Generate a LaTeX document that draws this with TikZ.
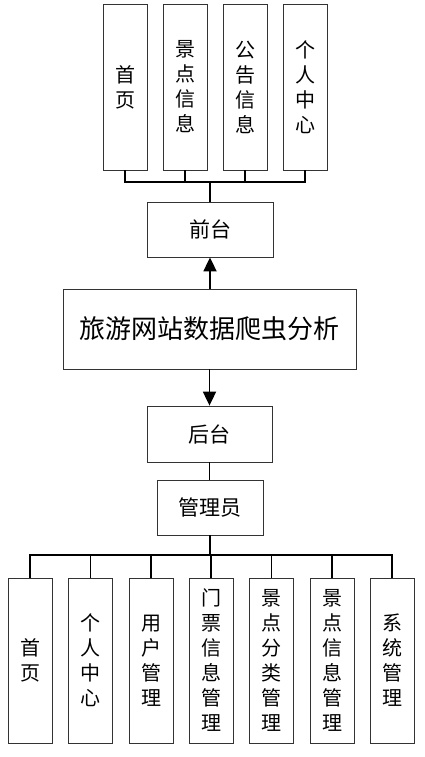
\documentclass[tikz,border=0pt]{standalone}
\usepackage{fontspec}
\setmainfont{Noto Sans CJK SC}
\usetikzlibrary{arrows.meta}

\begin{document}
\begin{tikzpicture}[
    x=1pt, y=-1pt,
    block/.style={draw=black!80, line width=0.8pt, rectangle, align=center, inner sep=0pt, fill=white},
    colbox/.style={block, minimum width=44pt, minimum height=166pt, font=\fontsize{20}{25}\selectfont},
    midbox/.style={block, minimum height=55pt, font=\fontsize{21}{25}\selectfont},
    tree/.style={line width=1.3pt},
    flow/.style={line width=1.8pt, -{Triangle[width=13pt,length=14pt]}}
  ]
    \useasboundingbox (0,0) rectangle (424,757);

    % Front pages
    \node[colbox] at (125,87)  (home)    {首\\页};
    \node[colbox] at (185,87)  (scenic)  {景\\点\\信\\息};
    \node[colbox] at (245,87)  (notice)  {公\\告\\信\\息};
    \node[colbox] at (305,87)  (mine)    {个\\人\\中\\心};

    % Middle blocks
    \node[midbox, minimum width=126pt] at (210,229.5) (front) {前台};
    \node[block, minimum width=293pt, minimum height=80pt, font=\fontsize{26}{30}\selectfont] at (209.5,329) (system) {旅游网站数据爬虫分析};
    \node[midbox, minimum width=125pt, minimum height=56pt] at (209.5,434) (back) {后台};
    \node[midbox, minimum width=106pt] at (210,507.5) (admin) {管理员};

    % Admin pages
    \node[colbox, minimum height=165pt] at (30,660.5)   (ahome)   {首\\页};
    \node[colbox, minimum height=165pt] at (90.5,660.5) (amine)   {个\\人\\中\\心};
    \node[colbox, minimum height=165pt] at (151,660.5)  (auser)   {用\\户\\管\\理};
    \node[colbox, minimum height=165pt] at (211,660.5)  (aticket) {门\\票\\信\\息\\管\\理};
    \node[colbox, minimum height=165pt] at (271.5,660.5)(acat)    {景\\点\\分\\类\\管\\理};
    \node[colbox, minimum height=165pt] at (332,660.5)  (ascenic) {景\\点\\信\\息\\管\\理};
    \node[colbox, minimum height=165pt] at (392,660.5)  (asys)    {系\\统\\管\\理};

    % Bus points
    \coordinate (topbus) at (210,182);
    \coordinate (lowbus) at (211,555);

    % Front tree
    \draw[tree] (front.north) -- (topbus);
    \draw[tree] (home.south) |- (topbus) -| (mine.south);
    \draw[tree] (scenic.south) -- (scenic.south |- topbus);
    \draw[tree] (notice.south) -- (notice.south |- topbus);

    % Flow arrows
    \draw[flow] (system.north -| front.south) -- (front.south);
    \draw[flow] (system.south -| back.north) -- (back.north);
    \draw[line width=0.8pt] (back.south) -- (back.south |- admin.north);

    % Admin tree
    \draw[tree] (admin.south) -- (admin.south |- lowbus);
    \draw[tree] (ahome.north) |- (lowbus) -| (asys.north);
    \draw[tree] (amine.north) -- (amine.north |- lowbus);
    \draw[tree] (auser.north) -- (auser.north |- lowbus);
    \draw[tree] (aticket.north) -- (aticket.north |- lowbus);
    \draw[tree] (acat.north) -- (acat.north |- lowbus);
    \draw[tree] (ascenic.north) -- (ascenic.north |- lowbus);

  \end{tikzpicture}
\end{document}
